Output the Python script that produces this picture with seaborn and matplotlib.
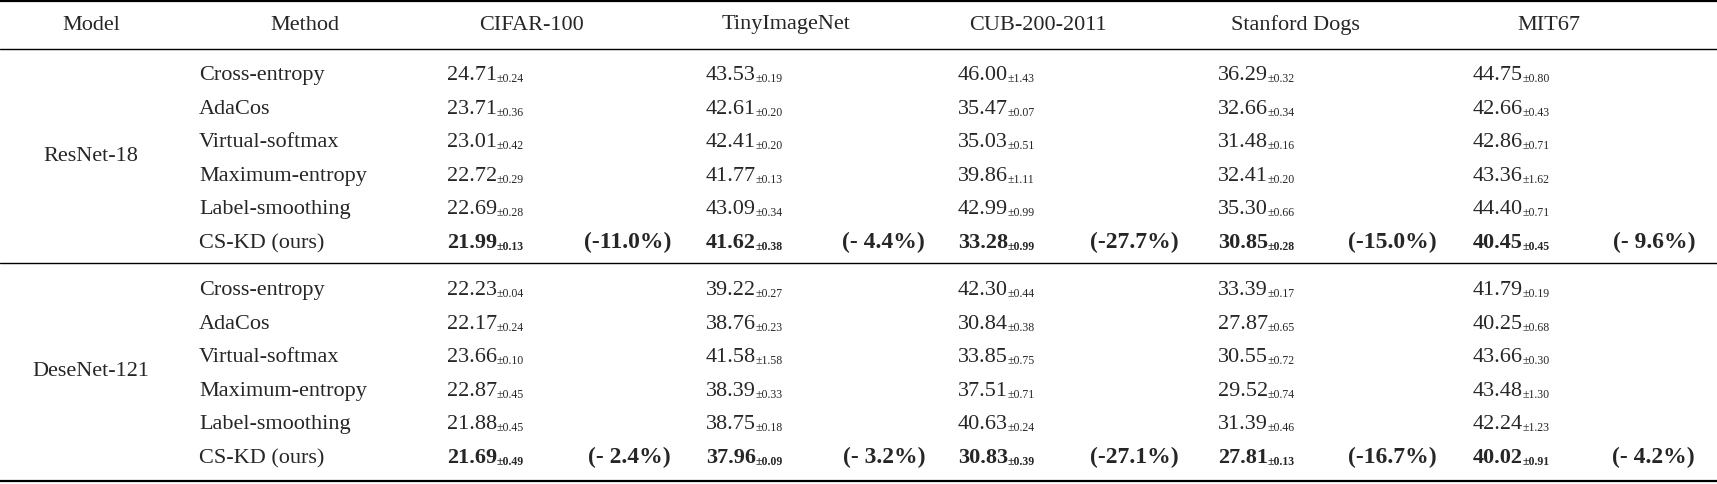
import matplotlib
matplotlib.use("Agg")
import matplotlib.pyplot as plt
import seaborn as sns

sns.set_theme(style="white")
plt.rcParams['font.family'] = ['Liberation Serif', 'DejaVu Serif']

models = ["ResNet-18", "DeseNet-121"]
methods = ["Cross-entropy", "AdaCos", "Virtual-softmax", "Maximum-entropy", "Label-smoothing", "CS-KD (ours)"]
datasets = ["CIFAR-100", "TinyImageNet", "CUB-200-2011", "Stanford Dogs", "MIT67"]

resnet_mean = [
    [24.71, 43.53, 46.00, 36.29, 44.75],
    [23.71, 42.61, 35.47, 32.66, 42.66],
    [23.01, 42.41, 35.03, 31.48, 42.86],
    [22.72, 41.77, 39.86, 32.41, 43.36],
    [22.69, 43.09, 42.99, 35.30, 44.40],
    [21.99, 41.62, 33.28, 30.85, 40.45],
]
resnet_std = [
    [0.24, 0.19, 1.43, 0.32, 0.80],
    [0.36, 0.20, 0.07, 0.34, 0.43],
    [0.42, 0.20, 0.51, 0.16, 0.71],
    [0.29, 0.13, 1.11, 0.20, 1.62],
    [0.28, 0.34, 0.99, 0.66, 0.71],
    [0.13, 0.38, 0.99, 0.28, 0.45],
]
resnet_gain = ["(-11.0%)", "(- 4.4%)", "(-27.7%)", "(-15.0%)", "(- 9.6%)"]

densenet_mean = [
    [22.23, 39.22, 42.30, 33.39, 41.79],
    [22.17, 38.76, 30.84, 27.87, 40.25],
    [23.66, 41.58, 33.85, 30.55, 43.66],
    [22.87, 38.39, 37.51, 29.52, 43.48],
    [21.88, 38.75, 40.63, 31.39, 42.24],
    [21.69, 37.96, 30.83, 27.81, 40.02],
]
densenet_std = [
    [0.04, 0.27, 0.44, 0.17, 0.19],
    [0.24, 0.23, 0.38, 0.65, 0.68],
    [0.10, 1.58, 0.75, 0.72, 0.30],
    [0.45, 0.33, 0.71, 0.74, 1.30],
    [0.45, 0.18, 0.24, 0.46, 1.23],
    [0.49, 0.09, 0.39, 0.13, 0.91],
]
densenet_gain = ["(- 2.4%)", "(- 3.2%)", "(-27.1%)", "(-16.7%)", "(- 4.2%)"]

W, H = 1717, 485
fig = plt.figure(figsize=(W / 100, H / 100), dpi=100)
ax = fig.add_axes([0, 0, 1, 1])
ax.set_xlim(0, W)
ax.set_ylim(H, 0)
ax.axis("off")

FS = 16
SUB = 8.5
model_x = 91
method_x = 199
head_x = [531, 786, 1038, 1295, 1549]
num_x = [447, 706, 958, 1218, 1473]
pct_x = [671, 925, 1179, 1437, 1695]

# rules
ax.plot([0, W], [2, 2], color="black", lw=1.6)
ax.plot([0, W], [50, 50], color="black", lw=1.0)
ax.plot([0, W], [264, 264], color="black", lw=1.0)
ax.plot([0, W], [482, 482], color="black", lw=1.6)

hy = 25
ax.text(model_x, hy, "Model", ha="center", va="center", fontsize=FS)
ax.text(305, hy, "Method", ha="center", va="center", fontsize=FS)
for x, d in zip(head_x, datasets):
    ax.text(x, hy, d, ha="center", va="center", fontsize=FS)

fig.canvas.draw()
renderer = fig.canvas.get_renderer()
inv = ax.transData.inverted()

def cell(x, y, mean, std, bold):
    w = "bold" if bold else "normal"
    t = ax.text(x, y, f"{mean:.2f}", ha="left", va="baseline", fontsize=FS, fontweight=w)
    bb = t.get_window_extent(renderer)
    x1 = inv.transform((bb.x1, bb.y0))[0]
    ax.text(x1 - 0.5, y + 2, f"±{std:.2f}", ha="left", va="baseline", fontsize=SUB, fontweight=w)

blocks = [
    (models[0], resnet_mean, resnet_std, resnet_gain, [73, 107, 140, 174, 207, 241]),
    (models[1], densenet_mean, densenet_std, densenet_gain, [288, 322, 355, 389, 422, 456]),
]
for name, means, stds, gains, ys in blocks:
    ax.text(model_x, (ys[0] + ys[-1]) / 2, name, ha="center", va="center", fontsize=FS)
    for i, (m, y) in enumerate(zip(methods, ys)):
        yb = y + 7
        ax.text(method_x, yb, m, ha="left", va="baseline", fontsize=FS)
        bold = i == len(methods) - 1
        for j in range(5):
            cell(num_x[j], yb, means[i][j], stds[i][j], bold)
            if bold:
                ax.text(pct_x[j], yb, gains[j], ha="right", va="baseline",
                        fontsize=FS + 1, fontweight="bold")

fig.savefig("out.png", dpi=100)
